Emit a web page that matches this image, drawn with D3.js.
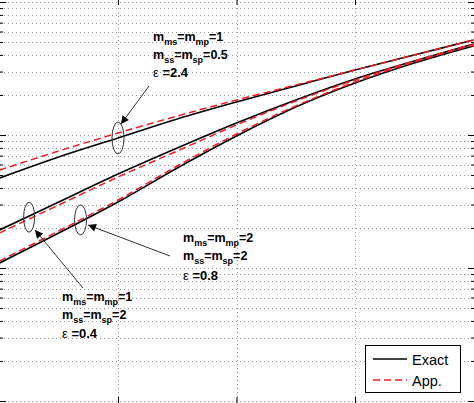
<!DOCTYPE html>
<html>
<head>
<meta charset="utf-8">
<script src="https://cdn.jsdelivr.net/npm/d3@7"></script>
<style>
  html, body { margin: 0; padding: 0; background: #fff; }
  svg { display: block; }
  text { font-family: "Liberation Sans", Arial, Helvetica, sans-serif; }
</style>
</head>
<body>
<svg id="chart" width="474" height="403"></svg>
<script>
// ---- data ----
const xValues = [0, 0.5, 1, 1.5, 2, 2.5, 3, 3.5, 4];
// case A: m_ms=m_mp=1, m_ss=m_sp=0.5, eps=2.4
const exactA = [0.04749, 0.06835, 0.09493, 0.1319, 0.1770, 0.2336, 0.3082, 0.3996, 0.5179];
const appA   = [0.05455, 0.07580, 0.1035, 0.1389, 0.1833, 0.2376, 0.3082, 0.3996, 0.5179];
// case B: m_ms=m_mp=1, m_ss=m_sp=2, eps=0.4
const exactB = [0.01931, 0.03134, 0.05089, 0.07986, 0.1231, 0.1833, 0.2637, 0.3600, 0.4833];
const appB   = [0.01833, 0.02977, 0.04833, 0.07580, 0.1190, 0.1801, 0.2592, 0.3600, 0.4833];
// case C: m_ms=m_mp=2, m_ss=m_sp=2, eps=0.8
const exactC = [0.01090, 0.01833, 0.03134, 0.05647, 0.09829, 0.1623, 0.2460, 0.3478, 0.4669];
const appC   = [0.01129, 0.01898, 0.03245, 0.05846, 0.1017, 0.1652, 0.2503, 0.3539, 0.4751];

const xGridTicks = [1, 2, 3];
const legendLabels = ["Exact", "App."];

// annotation anchors in data units: [x, y]
const ellipseA = [1.0, 0.0949];
const ellipseB = [0.25, 0.0241];
const ellipseC = [0.684, 0.0230];

// ---- drawing ----
const W = 474, H = 403;
const svg = d3.select("#chart");
const x = d3.scaleLinear().domain([0, 4]).range([-0.5, 473.5]);
const y = d3.scaleLog().domain([1e-3, 1]).range([401, 2]);

// grid
const gridH = y.ticks();
svg.append("g").selectAll("line").data(gridH).join("line")
  .attr("x1", 0).attr("x2", W)
  .attr("y1", d => Math.round(y(d)) + 0.5).attr("y2", d => Math.round(y(d)) + 0.5)
  .attr("stroke", "#999").attr("stroke-width", 1).attr("stroke-dasharray", "1,3");
svg.append("g").selectAll("line").data(xGridTicks).join("line")
  .attr("x1", d => Math.round(x(d)) + 0.5).attr("x2", d => Math.round(x(d)) + 0.5)
  .attr("y1", 0).attr("y2", H)
  .attr("stroke", "#999").attr("stroke-width", 1).attr("stroke-dasharray", "1,3");

// axes ticks (inward, no labels)
const isMajor = d => Math.abs(Math.log10(d) - Math.round(Math.log10(d))) < 1e-6;
function styleAxis(g) {
  g.select(".domain").remove();
  g.selectAll("text").remove();
  g.selectAll(".tick line").attr("stroke", "#000").attr("stroke-width", 1);
}
const leftAx = svg.append("g").attr("transform", "translate(0,0)")
  .call(d3.axisRight(y).tickValues(gridH).tickSize(4)).call(styleAxis);
leftAx.selectAll(".tick line").attr("x2", d => isMajor(d) ? 6 : 3);
const rightAx = svg.append("g").attr("transform", `translate(${W},0)`)
  .call(d3.axisLeft(y).tickValues(gridH).tickSize(4)).call(styleAxis);
rightAx.selectAll(".tick line").attr("x2", d => isMajor(d) ? -6 : -3);
svg.append("g").attr("transform", "translate(0,-1)")
  .call(d3.axisBottom(x).tickValues(xGridTicks).tickSize(6)).call(styleAxis);
svg.append("g").attr("transform", `translate(0,${H + 1})`)
  .call(d3.axisTop(x).tickValues(xGridTicks).tickSize(7)).call(styleAxis);

// curves
const line = d3.line().x((d, i) => x(xValues[i])).y(d => y(d)).curve(d3.curveCatmullRom.alpha(0.5));
const series = [
  { v: exactA, app: false }, { v: exactB, app: false }, { v: exactC, app: false },
  { v: appA, app: true }, { v: appB, app: true }, { v: appC, app: true }
];
svg.append("g").selectAll("path").data(series).join("path")
  .attr("d", d => line(d.v))
  .attr("fill", "none")
  .attr("stroke", d => d.app ? "#ee1c24" : "#000")
  .attr("stroke-width", d => d.app ? 1.5 : 1.6)
  .attr("stroke-dasharray", d => d.app ? "7,4" : null);

// ellipses
const ellipses = [
  { c: ellipseA, rx: 6, ry: 16 },
  { c: ellipseB, rx: 5.5, ry: 15 },
  { c: ellipseC, rx: 6, ry: 15 }
];
svg.append("g").selectAll("ellipse").data(ellipses).join("ellipse")
  .attr("cx", d => x(d.c[0])).attr("cy", d => y(d.c[1]))
  .attr("rx", d => d.rx).attr("ry", d => d.ry)
  .attr("fill", "none").attr("stroke", "#333").attr("stroke-width", 1);

// arrows
svg.append("defs").append("marker")
  .attr("id", "ah").attr("viewBox", "0 0 10 10").attr("refX", 10).attr("refY", 5)
  .attr("markerWidth", 9).attr("markerHeight", 8).attr("markerUnits", "userSpaceOnUse")
  .attr("orient", "auto")
  .append("path").attr("d", "M0,0 L10,5 L0,10 Z").attr("fill", "#000");
const arrows = [
  { from: [149, 86], to: [121, 124] },
  { from: [83, 288], to: [35, 230] },
  { from: [170, 256], to: [88, 225] }
];
svg.append("g").selectAll("line").data(arrows).join("line")
  .attr("x1", d => d.from[0]).attr("y1", d => d.from[1])
  .attr("x2", d => d.to[0]).attr("y2", d => d.to[1])
  .attr("stroke", "#333").attr("stroke-width", 1).attr("marker-end", "url(#ah)");

// labels
function label(x0, ys, mval, sval, eps) {
  const g = svg.append("g").attr("font-weight", "bold").attr("fill", "#000");
  const rows = [
    [["m", 0], ["ms", 1], ["=m", 0], ["mp", 1], ["=" + mval, 0]],
    [["m", 0], ["ss", 1], ["=m", 0], ["sp", 1], ["=" + sval, 0]]
  ];
  rows.forEach((r, i) => {
    const t = g.append("text").attr("x", x0).attr("y", ys[i]).attr("font-size", 12.5);
    r.forEach(([s, sub]) => {
      t.append("tspan").text(s)
        .attr("font-size", sub ? 9 : 12.5)
        .attr("baseline-shift", sub ? "-4" : null);
    });
  });
  const t3 = g.append("text").attr("x", x0).attr("y", ys[2]).attr("font-size", 13);
  t3.append("tspan").text("ε").attr("font-weight", "normal");
  t3.append("tspan").text(" =" + eps);
}
label(153, [41, 58.5, 77], "1", "0.5", "2.4");
label(62, [301, 318.5, 338], "1", "2", "0.4");
label(183, [242, 259.5, 280], "2", "2", "0.8");

// legend
const lg = svg.append("g");
lg.append("rect").attr("x", 365.5).attr("y", 345.5).attr("width", 95).attr("height", 47)
  .attr("fill", "#fff").attr("stroke", "#000").attr("stroke-width", 1);
legendLabels.forEach((t, i) => {
  const yy = 359 + i * 21;
  lg.append("line").attr("x1", 373).attr("x2", 407).attr("y1", yy).attr("y2", yy)
    .attr("stroke", i ? "#ee1c24" : "#000").attr("stroke-width", i ? 1.5 : 1.3)
    .attr("stroke-dasharray", i ? "7,4" : null);
  lg.append("text").attr("x", 412).attr("y", yy + 5.5).attr("font-size", 14.5).text(t);
});
</script>
</body>
</html>
